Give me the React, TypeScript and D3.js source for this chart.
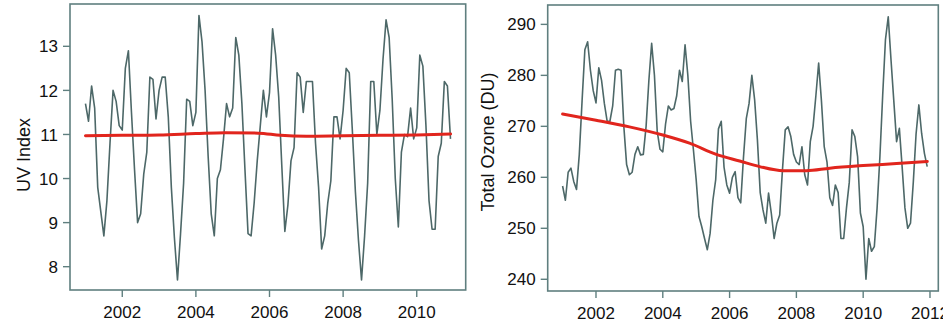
import React from "react";
import * as d3 from "d3";

// Monthly UV Index, Jan 2001 – Dec 2010
const uvValues: number[] = [
  11.7, 11.3, 12.1, 11.6, 9.8, 9.25, 8.7, 9.5, 10.8, 12.0, 11.75, 11.2,
  11.1, 12.5, 12.9, 11.5, 10.2, 9.0, 9.2, 10.1, 10.6, 12.3, 12.25, 11.35,
  12.0, 12.3, 12.3, 11.4, 9.8, 8.65, 7.7, 8.75, 9.9, 11.8, 11.75, 11.2,
  11.5, 13.7, 13.1, 12.0, 10.5, 9.2, 8.7, 10.0, 10.2, 10.9, 11.7, 11.4,
  11.6, 13.2, 12.8, 11.7, 10.2, 8.75, 8.7, 9.45, 10.4, 11.2, 12.0, 11.4,
  11.95, 13.4, 12.8, 11.85, 10.3, 8.8, 9.4, 10.4, 10.7, 12.4, 12.3, 11.5,
  12.2, 12.2, 12.2, 10.8, 9.8, 8.4, 8.7, 9.45, 9.95, 11.4, 11.4, 10.9,
  11.55, 12.5, 12.4, 11.1, 9.7, 8.6, 7.7, 8.7, 9.9, 12.2, 12.2, 11.0,
  11.55, 12.7, 13.6, 13.2, 11.8, 10.0, 8.9, 10.6, 11.0, 10.95, 11.6, 10.9,
  11.15, 12.8, 12.55, 11.2, 9.5, 8.85, 8.85, 10.5, 10.8, 12.2, 12.1, 10.9,
];

// Monthly total ozone (DU), Jan 2001 – Dec 2011
const ozoneValues: number[] = [
  258.3, 255.5, 261, 261.8, 259.2, 257.6, 264.5, 275, 285, 286.6, 281, 277,
  274.6, 281.5, 279, 274.5, 271, 271, 274, 281, 281.2, 281, 270, 262.5,
  260.5, 261, 264.5, 266, 264.4, 264.5, 270, 279, 286.3, 280, 269, 265.5,
  265, 270.5, 274, 273.2, 273.5, 276, 281, 278.8, 286, 280, 271, 265.4,
  259.5, 252.3, 250.3, 248, 245.8, 249, 255.5, 259.5, 269.5, 271, 262, 258.5,
  256.9, 260, 261.1, 256, 255, 264, 271.5, 274.5, 280, 275.2, 267.3, 257,
  253.6, 251, 256.9, 252.9, 248, 251, 252.6, 261.5, 269.3, 269.9, 268, 264.5,
  263, 262.5, 266, 260.5, 258.5, 267, 270, 276, 282.4, 275, 266, 263,
  256, 254.5, 258.5, 257, 248, 248, 254, 259, 269.3, 268, 264, 253,
  250.3, 240, 248, 245.5, 246.4, 254, 264, 276, 287, 291.5, 283, 275,
  267, 269.6, 262, 254, 250, 251, 259, 268.5, 274.2, 268.6, 264.7, 262.1,
];

// Smoothed trends (year, value)
const uvTrendYears = [2001, 2002, 2003, 2004, 2004.8, 2005.7, 2006.3, 2007, 2008, 2009, 2010, 2010.92];
const uvTrendValues = [10.97, 10.98, 10.99, 11.02, 11.04, 11.03, 10.98, 10.96, 10.97, 10.98, 10.99, 11.01];

const ozTrendYears = [2001, 2002, 2003, 2004, 2004.8, 2005.6, 2006.3, 2006.9, 2007.6, 2008.3, 2009, 2010, 2011, 2011.92];
const ozTrendValues = [272.4, 271.2, 269.9, 268.3, 266.7, 264.5, 263.2, 262.1, 261.3, 261.3, 261.8, 262.3, 262.7, 263.1];

const uvXTicks = [2002, 2004, 2006, 2008, 2010];
const uvYTicks = [8, 9, 10, 11, 12, 13];
const ozXTicks = [2002, 2004, 2006, 2008, 2010, 2012];
const ozYTicks = [240, 250, 260, 270, 280, 290];

const START_YEAR = 2001;

const FRAME = "#5f7f7f";
const LINE = "#4d6868";
const RED = "#e1251d";
const FONT = "'Liberation Sans', Arial, sans-serif";

type PanelProps = {
  left: number; right: number; top: number; bottom: number;
  xDomain: [number, number]; yDomain: [number, number];
  values: number[]; trendX: number[]; trendY: number[];
  xTicks: number[]; yTicks: number[]; title: string; titleX: number; titleY: number;
};

function Panel(p: PanelProps) {
  const x = d3.scaleLinear().domain(p.xDomain).range([p.left, p.right]);
  const y = d3.scaleLinear().domain(p.yDomain).range([p.bottom, p.top]);
  const pts: [number, number][] = p.values.map((v, i) => [START_YEAR + i / 12, v]);
  const line = d3.line<[number, number]>().x(d => x(d[0])).y(d => y(d[1]));
  const trend: [number, number][] = p.trendX.map((t, i) => [t, p.trendY[i]]);
  const tline = d3.line<[number, number]>().x(d => x(d[0])).y(d => y(d[1])).curve(d3.curveMonotoneX);
  return (
    <g>
      <rect x={p.left} y={p.top} width={p.right - p.left} height={p.bottom - p.top}
        fill="white" stroke={FRAME} strokeWidth={1.6} />
      {p.yTicks.map(t => (
        <g key={"y" + t}>
          <line x1={p.left - 7} x2={p.left} y1={y(t)} y2={y(t)} stroke={FRAME} strokeWidth={1.4} />
          <text x={p.left - 12} y={y(t)} dy="0.36em" textAnchor="end" fontSize={17} fontFamily={FONT} fill="#111">{t}</text>
        </g>
      ))}
      {p.xTicks.map(t => (
        <g key={"x" + t}>
          <line x1={x(t)} x2={x(t)} y1={p.bottom} y2={p.bottom + 7} stroke={FRAME} strokeWidth={1.4} />
          <text x={x(t)} y={p.bottom + 28} textAnchor="middle" fontSize={17} fontFamily={FONT} fill="#111">{t}</text>
        </g>
      ))}
      <path d={line(pts) || ""} fill="none" stroke={LINE} strokeWidth={1.6} strokeLinejoin="round" />
      <path d={tline(trend) || ""} fill="none" stroke={RED} strokeWidth={3} strokeLinecap="round" />
      <text transform={`translate(${p.titleX},${p.titleY}) rotate(-90)`} textAnchor="middle" dy="0.36em"
        fontSize={18} fontFamily={FONT} fill="#111">{p.title}</text>
    </g>
  );
}

export default function App() {
  return (
    <div style={{ position: "absolute", left: 0, top: 0 }}>
      <svg width={943} height={325} style={{ display: "block", background: "white" }}>
        <Panel left={70} right={465.7} top={4} bottom={290}
          xDomain={[2000.58, 2011.33]} yDomain={[7.471, 13.96]}
          values={uvValues} trendX={uvTrendYears} trendY={uvTrendValues}
          xTicks={uvXTicks} yTicks={uvYTicks} title="UV Index" titleX={24} titleY={155} />
        <Panel left={547.7} right={938.3} top={5} bottom={291}
          xDomain={[2000.554, 2012.249]} yDomain={[237.7, 293.8]}
          values={ozoneValues} trendX={ozTrendYears} trendY={ozTrendValues}
          xTicks={ozXTicks} yTicks={ozYTicks} title="Total Ozone (DU)" titleX={488} titleY={142} />
      </svg>
    </div>
  );
}
